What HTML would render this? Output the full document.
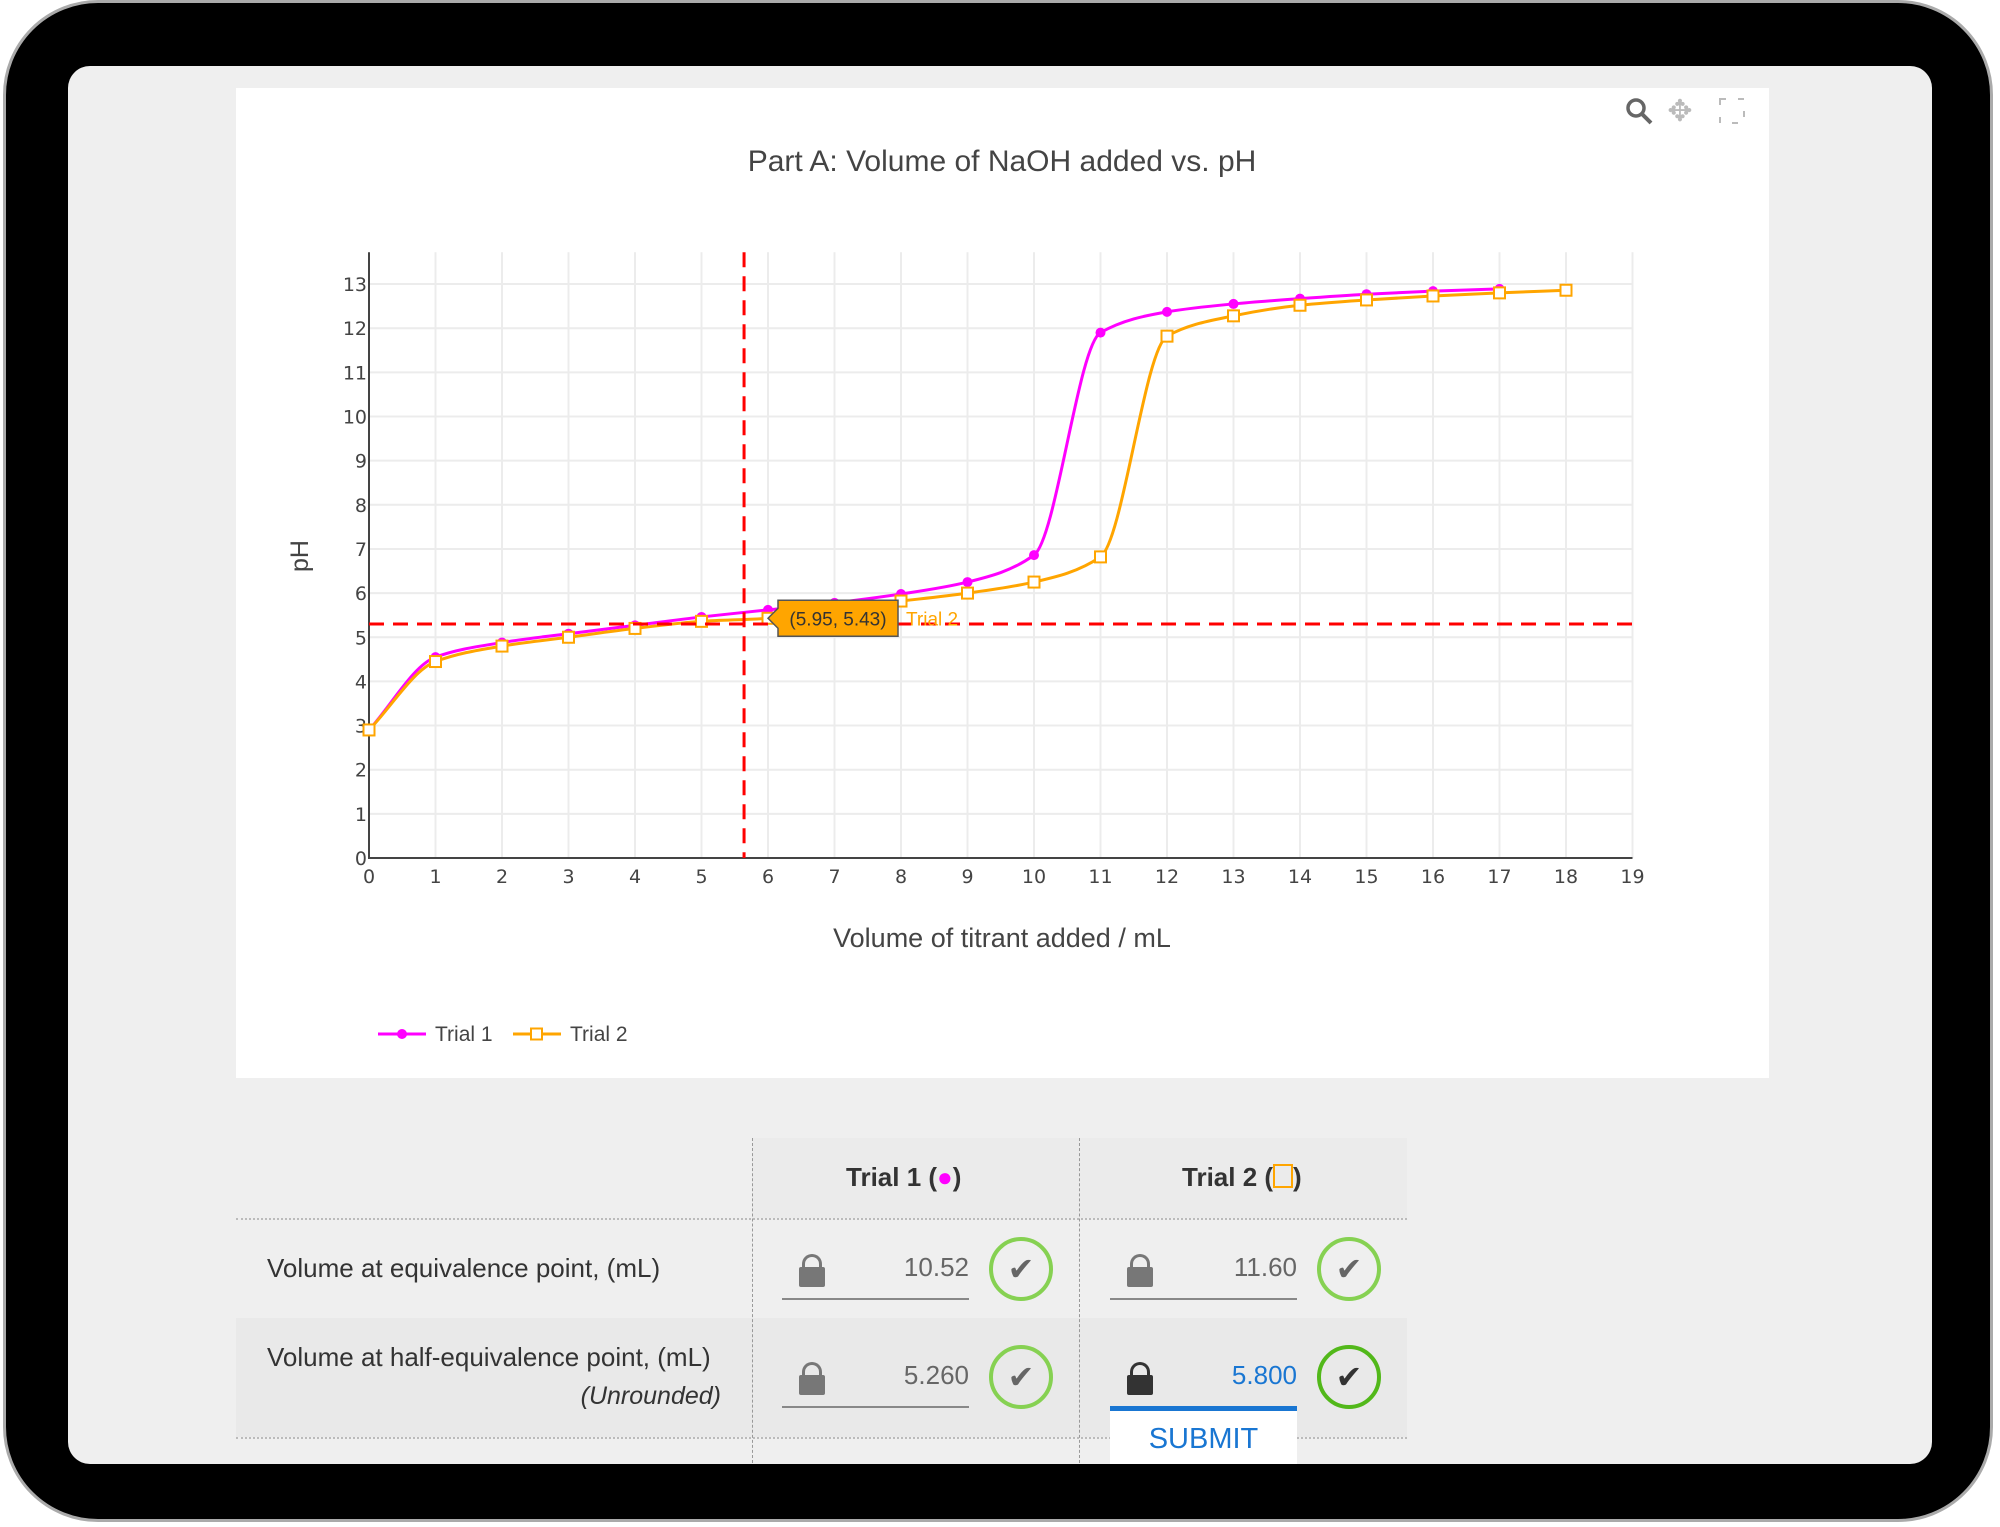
<!DOCTYPE html>
<html><head><meta charset="utf-8">
<style>
body{margin:0;width:2000px;height:1527px;background:#fff;overflow:hidden;position:relative;font-family:"Liberation Sans",sans-serif;}
#device{position:absolute;left:3px;top:0;width:1990px;height:1522px;background:#000;border:3px solid #aaa;border-radius:95px;box-sizing:border-box;}
#screen{position:absolute;left:62px;top:63px;width:1864px;height:1398px;background:#efefef;border-radius:22px;overflow:hidden;}
#panel{position:absolute;left:168px;top:22px;width:1533px;height:990px;background:#fff;}
.abs{position:absolute;}
.cell{position:absolute;color:#333;font-size:26px;}
</style></head><body>
<div id="device">
<div id="screen">
<div id="panel">
<svg id="chart" width="1533" height="990"></svg>
</div>
<div class="abs" style="left:684px;top:1072px;width:655px;height:80px;background:#ebebeb;"></div>
<div class="abs" style="left:168px;top:1252px;width:1171px;height:119px;background:#e9e9e9;"></div>
<div class="abs" style="left:684px;top:1072px;height:330px;border-left:1px dashed #999;"></div>
<div class="abs" style="left:1011px;top:1072px;height:330px;border-left:1px dashed #999;"></div>
<div class="abs" style="left:168px;top:1152px;width:1171px;border-top:2px dotted #bbb;"></div>
<div class="abs" style="left:168px;top:1371px;width:1171px;border-top:2px dotted #bbb;"></div>
<div class="cell" style="left:778px;top:1096px;font-weight:bold;">Trial 1 (<span style="color:#f0f">●</span>)</div>
<div class="cell" style="left:1114px;top:1096px;font-weight:bold;">Trial 2 (<span style="display:inline-block;width:16px;height:20px;border:2px solid #ffa500;vertical-align:-2px"></span>)</div>
<div class="cell" style="left:199px;top:1187px;">Volume at equivalence point, (mL)</div>
<div class="cell" style="left:199px;top:1276px;">Volume at half-equivalence point, (mL)</div>
<div class="cell" style="left:450px;top:1316px;width:203px;text-align:right;font-style:italic;font-size:25px;">(Unrounded)</div>
<div id="inputs"></div>
<div class="abs" style="left:1042px;top:1341px;width:187px;height:60px;background:#fff;border-top:4px solid #1976d2;color:#1976d2;font-size:29px;text-align:center;line-height:56px;">SUBMIT</div>
</div>
</div>
<script>
const inp=[[714,1202,'10.52','#666','#86d152'],[1042,1202,'11.60','#666','#86d152'],[714,1310,'5.260','#666','#86d152'],[1042,1310,'5.800','#1976d2','#52b81a']];
const names=['trial1-equivalence-input','trial2-equivalence-input','trial1-half-equivalence-input','trial2-half-equivalence-input'];
const box=document.getElementById('inputs');
inp.forEach((a,i)=>{
 const d=document.createElement('div');
 
 
 d.style.cssText=`position:absolute;left:${a[0]}px;top:${a[1]-30}px;width:187px;height:60px;border-bottom:${i==3?'4px solid #1976d2':'2px solid #888'};`;
 d.innerHTML=`<div style="position:absolute;left:20px;top:16px;width:20px;height:16px;border:3px solid ${i==3?'#333':'#777'};border-bottom:none;border-radius:10px 10px 0 0;box-sizing:border-box"></div><div style="position:absolute;left:17px;top:29px;width:26px;height:20px;background:${i==3?'#333':'#777'};border-radius:2px"></div><div style="position:absolute;right:0;top:14px;font-size:26px;color:${a[3]}">${a[2]}</div>`;
 box.appendChild(d);
 const c=document.createElement('div');
 
 
 c.style.cssText=`position:absolute;left:${a[0]+207}px;top:${a[1]-31}px;width:56px;height:56px;border:4px solid ${a[4]};border-radius:50%;text-align:center;line-height:56px;font-size:32px;color:${i==3?'#333':'#666'};`;
 c.textContent='✔';
 box.appendChild(c);
});

const xVals1=[0,1,2,3,4,5,6,7,8,9,10,11,12,13,14,15,16,17];
const pH1=[2.9,4.55,4.88,5.08,5.27,5.46,5.62,5.78,5.98,6.25,6.86,11.9,12.37,12.55,12.67,12.77,12.84,12.89];
const xVals2=[0,1,2,3,4,5,6,7,8,9,10,11,12,13,14,15,16,17,18];
const pH2=[2.9,4.45,4.8,5.0,5.2,5.36,5.43,5.65,5.82,6.0,6.25,6.82,11.82,12.28,12.52,12.64,12.73,12.8,12.86];
const xTicks=[0,1,2,3,4,5,6,7,8,9,10,11,12,13,14,15,16,17,18,19];
const yTicks=[0,1,2,3,4,5,6,7,8,9,10,11,12,13];
const halfEqX=5.64, halfEqY=5.3;
const tipPoint=[6,5.43];
const tipLabel='(5.95, 5.43)';

const OX=236,OY=88;
const X=v=>369-OX+v*66.5;
const Y=v=>858-OY-v*44.15;
const svg=document.getElementById('chart');
const NS='http://www.w3.org/2000/svg';
function mk(t,at,txt){const e=document.createElementNS(NS,t);for(const k in at)e.setAttribute(k,at[k]);if(txt!=null)e.textContent=txt;svg.appendChild(e);return e;}
const yTop=Y(13.72);
xTicks.forEach(v=>{const g=mk('line',{x1:X(v),x2:X(v),y1:yTop,y2:Y(0),stroke:'#ececec','stroke-width':2});
 const t=mk('text',{x:X(v),y:Y(0)+25,'text-anchor':'middle','font-size':19,fill:'#444','font-family':'DejaVu Sans, sans-serif'},v);});
yTicks.forEach(v=>{const g=mk('line',{x1:X(0),x2:X(19),y1:Y(v),y2:Y(v),stroke:'#ececec','stroke-width':2});
 const t=mk('text',{x:X(0)-2,y:Y(v)+7,'text-anchor':'end','font-size':19,fill:'#444','font-family':'DejaVu Sans, sans-serif'},v);});
let a=mk('line',{x1:X(0),x2:X(0),y1:yTop,y2:Y(0)+1,stroke:'#444','stroke-width':2});
a=mk('line',{x1:X(0)-1,x2:X(19),y1:Y(0),y2:Y(0),stroke:'#444','stroke-width':2});

// monotone cubic interpolation (no overshoot)
function spline(xs,ys){
 const n=xs.length,px=xs.map(X),py=ys.map(Y);
 const dx=[],m=[],d=[];
 for(let i=0;i<n-1;i++){dx[i]=px[i+1]-px[i];d[i]=(py[i+1]-py[i])/dx[i];}
 m[0]=d[0];m[n-1]=d[n-2];
 for(let i=1;i<n-1;i++){ if(d[i-1]*d[i]<=0)m[i]=0; else { const w1=2*dx[i]+dx[i-1],w2=dx[i]+2*dx[i-1]; m[i]=(w1+w2)/(w1/d[i-1]+w2/d[i]); } }
 let s=`M${px[0]},${py[0]}`;
 for(let i=0;i<n-1;i++){const h=dx[i]/3;s+=` C${px[i]+h},${py[i]+m[i]*h} ${px[i+1]-h},${py[i+1]-m[i+1]*h} ${px[i+1]},${py[i+1]}`;}
 return s;}
let s=mk('path',{d:spline(xVals1,pH1),fill:'none',stroke:'#ff00ff','stroke-width':3});
xVals1.forEach((x,i)=>{const c=mk('circle',{cx:X(x),cy:Y(pH1[i]),r:5,fill:'#ff00ff'});});
s=mk('path',{d:spline(xVals2,pH2),fill:'none',stroke:'#ffa500','stroke-width':3});
xVals2.forEach((x,i)=>{const c=mk('rect',{x:X(x)-5.5,y:Y(pH2[i])-5.5,width:11,height:11,fill:'#fff',stroke:'#ffa500','stroke-width':2});});
a=mk('line',{x1:X(halfEqX),x2:X(halfEqX),y1:yTop,y2:Y(0),stroke:'#f00','stroke-width':3,'stroke-dasharray':'15,9'});
a=mk('line',{x1:X(0),x2:X(19),y1:Y(halfEqY),y2:Y(halfEqY),stroke:'#f00','stroke-width':3,'stroke-dasharray':'15,9'});
const tx=X(tipPoint[0]),ty=Y(tipPoint[1]);
a=mk('path',{d:`M${tx},${ty} l10,-10 v-8 h120 v36 h-120 v-8 z`,fill:'#ffa500',stroke:'#555','stroke-width':1.5});
a=mk('text',{x:tx+70,y:ty+7,'text-anchor':'middle','font-size':19,fill:'#333','font-family':'Liberation Sans, sans-serif'},tipLabel);
a=mk('text',{x:tx+138,y:ty+7,'font-size':19,fill:'#ffa500','font-family':'Liberation Sans, sans-serif'},'Trial 2');
a=mk('text',{x:1002-OX,y:171-OY,'text-anchor':'middle','font-size':30,fill:'#444','font-family':'Liberation Sans, sans-serif'},'Part A: Volume of NaOH added vs. pH');
a=mk('text',{x:1002-OX,y:947-OY,'text-anchor':'middle','font-size':27,fill:'#444','font-family':'Liberation Sans, sans-serif'},'Volume of titrant added / mL');
a=mk('text',{x:0,y:0,'text-anchor':'middle','font-size':25,fill:'#444','font-family':'Liberation Sans, sans-serif',transform:`translate(${308-OX},${556-OY}) rotate(-90)`},'pH');
const ly=1034-OY;
a=mk('line',{x1:378-OX,x2:426-OX,y1:ly,y2:ly,stroke:'#ff00ff','stroke-width':3});
a=mk('circle',{cx:402-OX,cy:ly,r:5,fill:'#ff00ff'});
a=mk('text',{x:435-OX,y:ly+7,'font-size':21,fill:'#444','font-family':'Liberation Sans, sans-serif'},'Trial 1');
a=mk('line',{x1:513-OX,x2:561-OX,y1:ly,y2:ly,stroke:'#ffa500','stroke-width':3});
a=mk('rect',{x:531-OX,y:ly-5.5,width:11,height:11,fill:'#fff',stroke:'#ffa500','stroke-width':2});
a=mk('text',{x:570-OX,y:ly+7,'font-size':21,fill:'#444','font-family':'Liberation Sans, sans-serif'},'Trial 2');
a=mk('circle',{cx:1636-OX,cy:108-OY,r:8,fill:'none',stroke:'#666','stroke-width':3.5});
a=mk('line',{x1:1642-OX,y1:114-OY,x2:1651-OX,y2:123-OY,stroke:'#666','stroke-width':4});
a=mk('text',{x:1680-OX,y:121-OY,'text-anchor':'middle','font-size':30,fill:'#bbb'},'✥');
a=mk('rect',{x:1720-OX,y:99-OY,width:24,height:24,fill:'none',stroke:'#bbb','stroke-width':2,'stroke-dasharray':'6,12'});
</script>
</body></html>
